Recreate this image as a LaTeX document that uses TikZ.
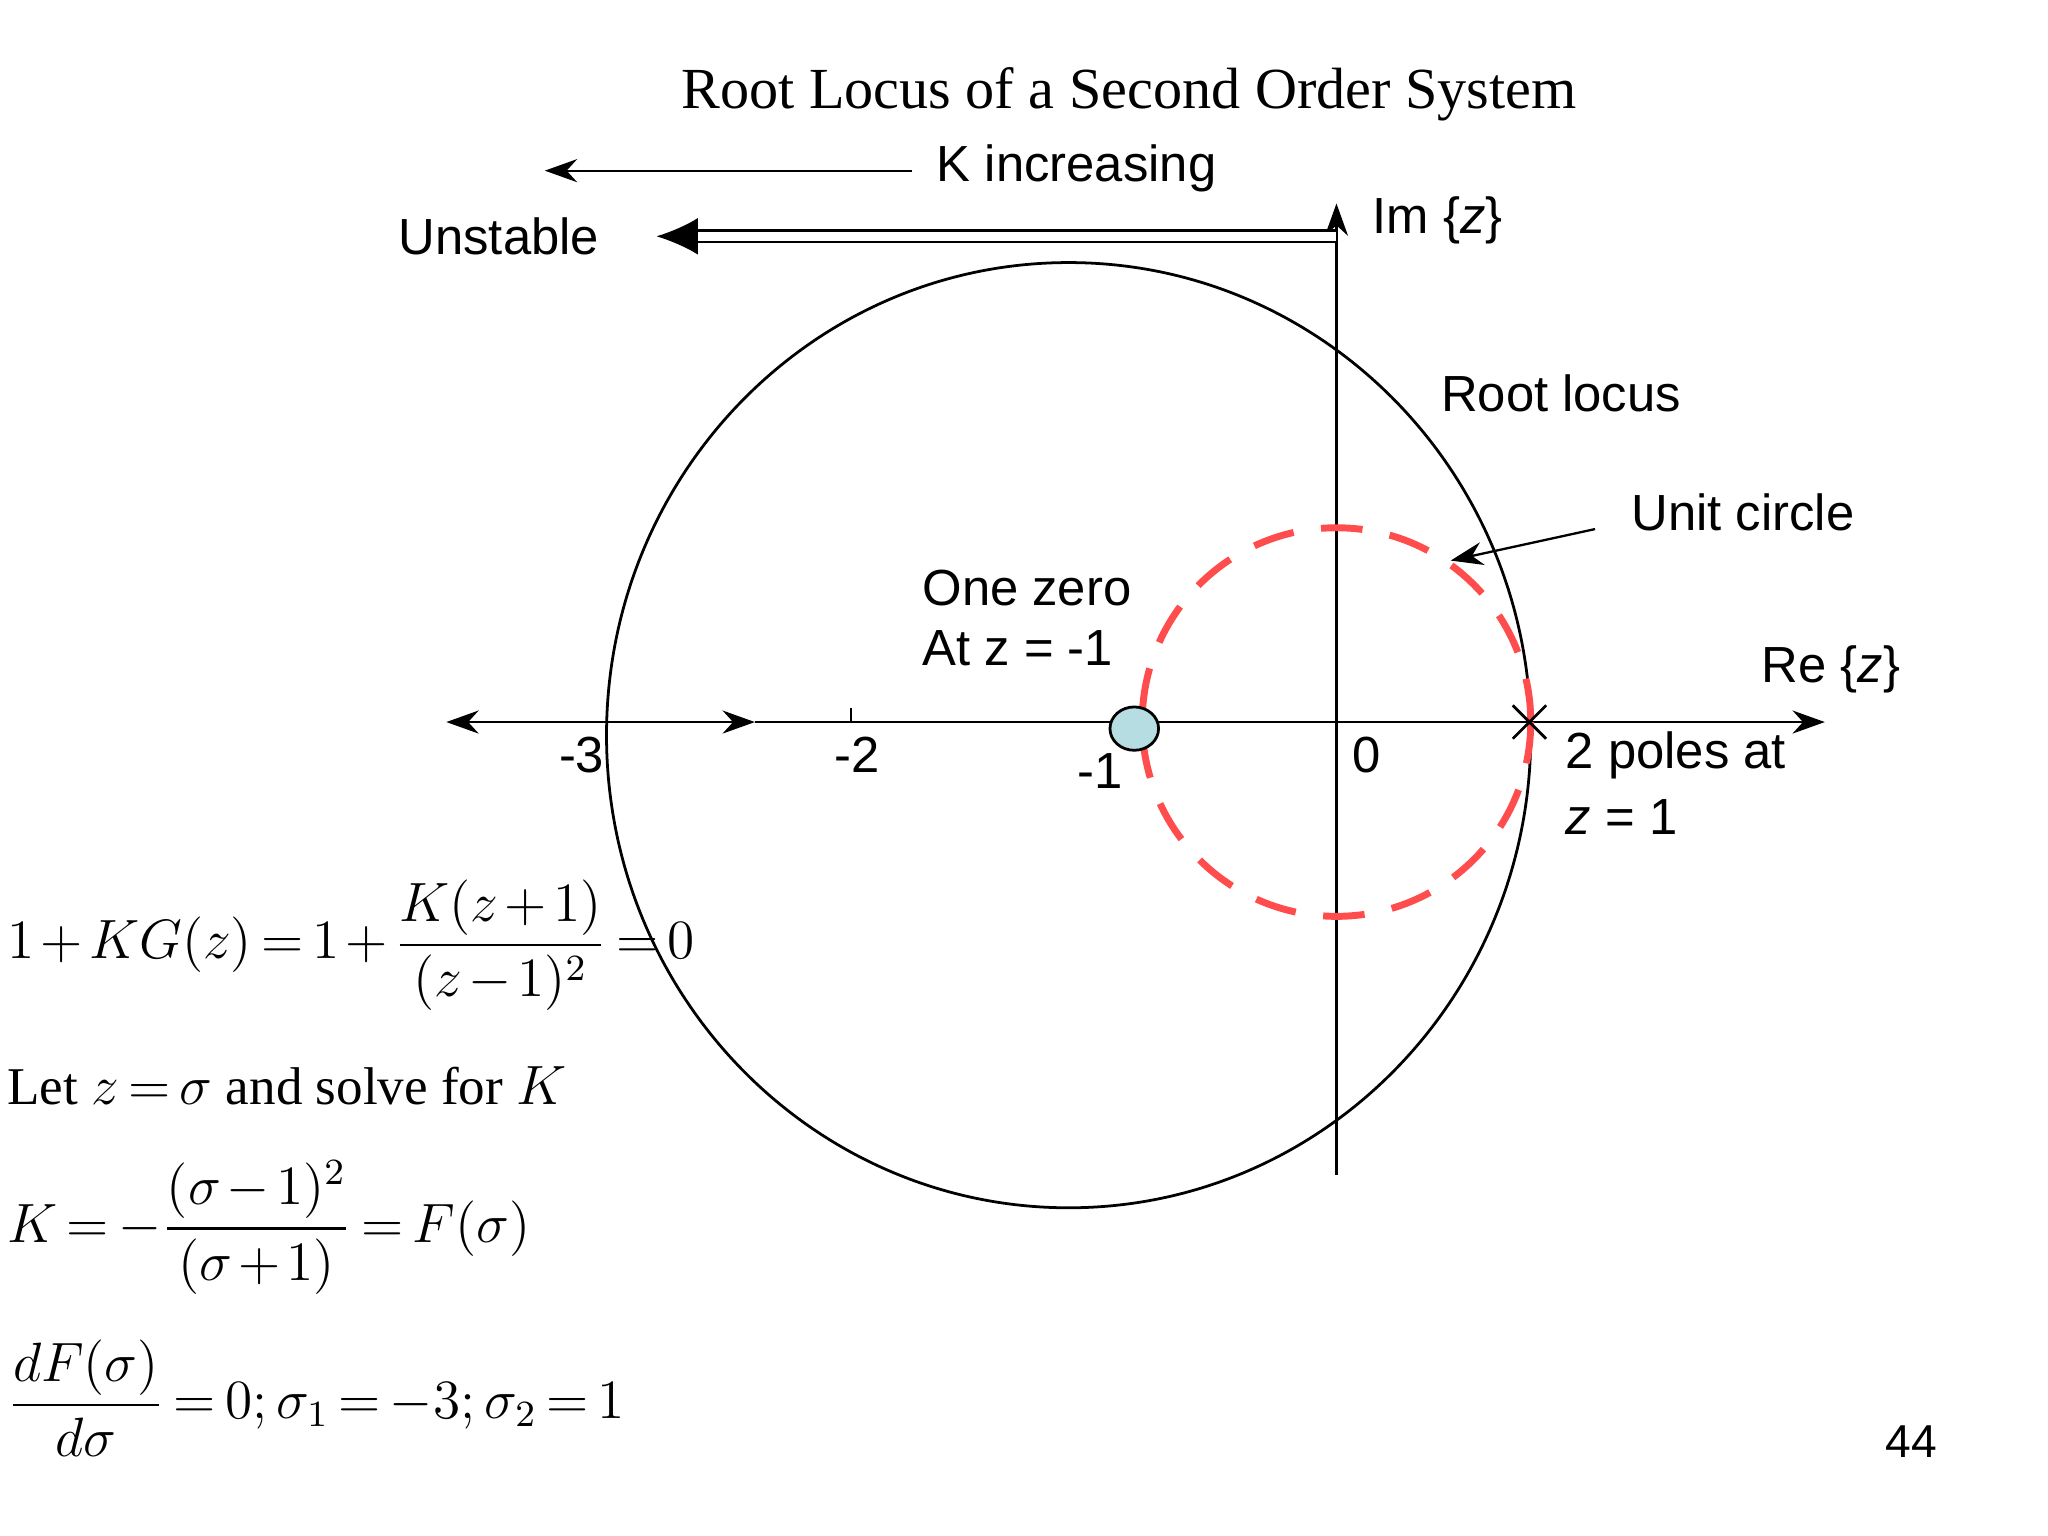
\documentclass[tikz,border=0pt]{standalone}
\usepackage{amsmath}
\usepackage{fontspec}
\setmainfont{Liberation Serif}
\setsansfont{Liberation Sans}
\usetikzlibrary{arrows.meta,shapes.geometric}
\definecolor{zfill}{RGB}{182,221,226}
\medmuskip=2mu plus 1mu
\thickmuskip=3mu plus 2mu
\begin{document}
\begin{tikzpicture}[x=0.01cm,y=-0.01cm,
  lab/.style={font=\sffamily\fontsize{11}{14}\selectfont,inner sep=0pt},
  eq/.style={font=\fontsize{11.5}{14}\selectfont,inner sep=0pt,anchor=west},
  ax/.style={line width=0.5pt}]
\useasboundingbox (0,0) rectangle (1560,1170);
% title
\node[font=\fontsize{12.6}{15}\selectfont,inner sep=0pt] (title) at (860,72) {Root Locus of a Second Order System};
% axes
\coordinate (rl) at (340,550); \coordinate (rm) at (575,550); \coordinate (rr) at (1390,550);
\draw[ax,{Stealth[length=7pt,width=5pt]}-{Stealth[length=7pt,width=5pt]}] (rl) -- (rm);
\draw[ax,-{Stealth[length=7pt,width=5pt]}] (rm) -- (rr);
\coordinate (ib) at (1018,895); \coordinate (it) at (1018,155);
\draw[ax,-{Stealth[length=7pt,width=5pt]}] (ib) -- (it);
\coordinate (t2) at (648,539); \coordinate (t2b) at (648,550);
\draw[ax] (t2) -- (t2b);
% big circle
\draw[line width=0.6pt] (814,560) ellipse [x radius=352, y radius=360];
% unit circle
\draw[red!70!white,line width=1.5pt,dash pattern=on 9pt off 6pt] (1018,550) circle [radius=148];
% zero
\node[draw,fill=zfill,ellipse,minimum width=0.37cm,minimum height=0.33cm,inner sep=0pt,line width=0.6pt] (zero) at (864,555) {};
% pole
\node[inner sep=0pt,minimum size=0.24cm] (pole) at (1165,550) {};
\draw[line width=0.6pt] (pole.north west) -- (pole.south east) (pole.north east) -- (pole.south west);
% tick labels
\node[lab] (m3) at (443,575) {-3};
\node[lab] (m2) at (653,575) {-2};
\node[lab] (m1) at (838,587) {-1};
\node[lab] (z0) at (1041,575) {0};
\node[lab,anchor=west] (im) at (1045,168) {Im \{\textit{z}\}};
\node[lab,anchor=east] (re) at (1448,510) {Re \{\textit{z}\}};
\node[lab,anchor=west] (rlc) at (1097,300) {Root locus};
\node[lab,anchor=west] (uc) at (1242,390) {Unit circle};
\coordinate (ucs) at (1215,403); \coordinate (uce) at (1105,427);
\draw[ax,-{Stealth[length=7pt,width=5pt]}] (ucs) -- (uce);
\node[lab,anchor=west] (oz1) at (702,448) {One zero};
\node[lab,anchor=west] (oz2) at (702,494) {At z = -1};
\node[lab,anchor=west] (p1) at (1192,575) {2 poles at};
\node[lab,anchor=west] (p2) at (1192,622) {\textit{z} = 1};
% K increasing
\node[lab,anchor=west] (ki) at (713,128) {K increasing};
\coordinate (kis) at (695,130); \coordinate (kie) at (415,130);
\draw[ax,-{Stealth[length=7pt,width=5pt]}] (kis) -- (kie);
\node[lab] (uns) at (380,180) {Unstable};
\coordinate (us) at (1018,180); \coordinate (ue) at (500,180);
\draw[double,double distance=2pt,line width=0.5pt,-{Latex[length=9pt,width=8pt]}] (us) -- (ue);
% equations
\node[eq] (e1) at (5,720) {$1+KG(z)=1+\dfrac{K(z+1)}{(z-1)^2}=0$};
\node[eq] (e2) at (5,827) {Let $z=\sigma$ and solve for $K$};
\node[eq] (e3) at (5,935) {$K=-\dfrac{(\sigma-1)^2}{(\sigma+1)}=F(\sigma)$};
\node[eq] (e4) at (5,1065) {$\dfrac{dF(\sigma)}{d\sigma}=0;\sigma_1=-3;\sigma_2=1$};
\node[font=\sffamily\fontsize{10}{12}\selectfont,inner sep=0pt] (pg) at (1456,1098) {44};
\end{tikzpicture}
\end{document}
